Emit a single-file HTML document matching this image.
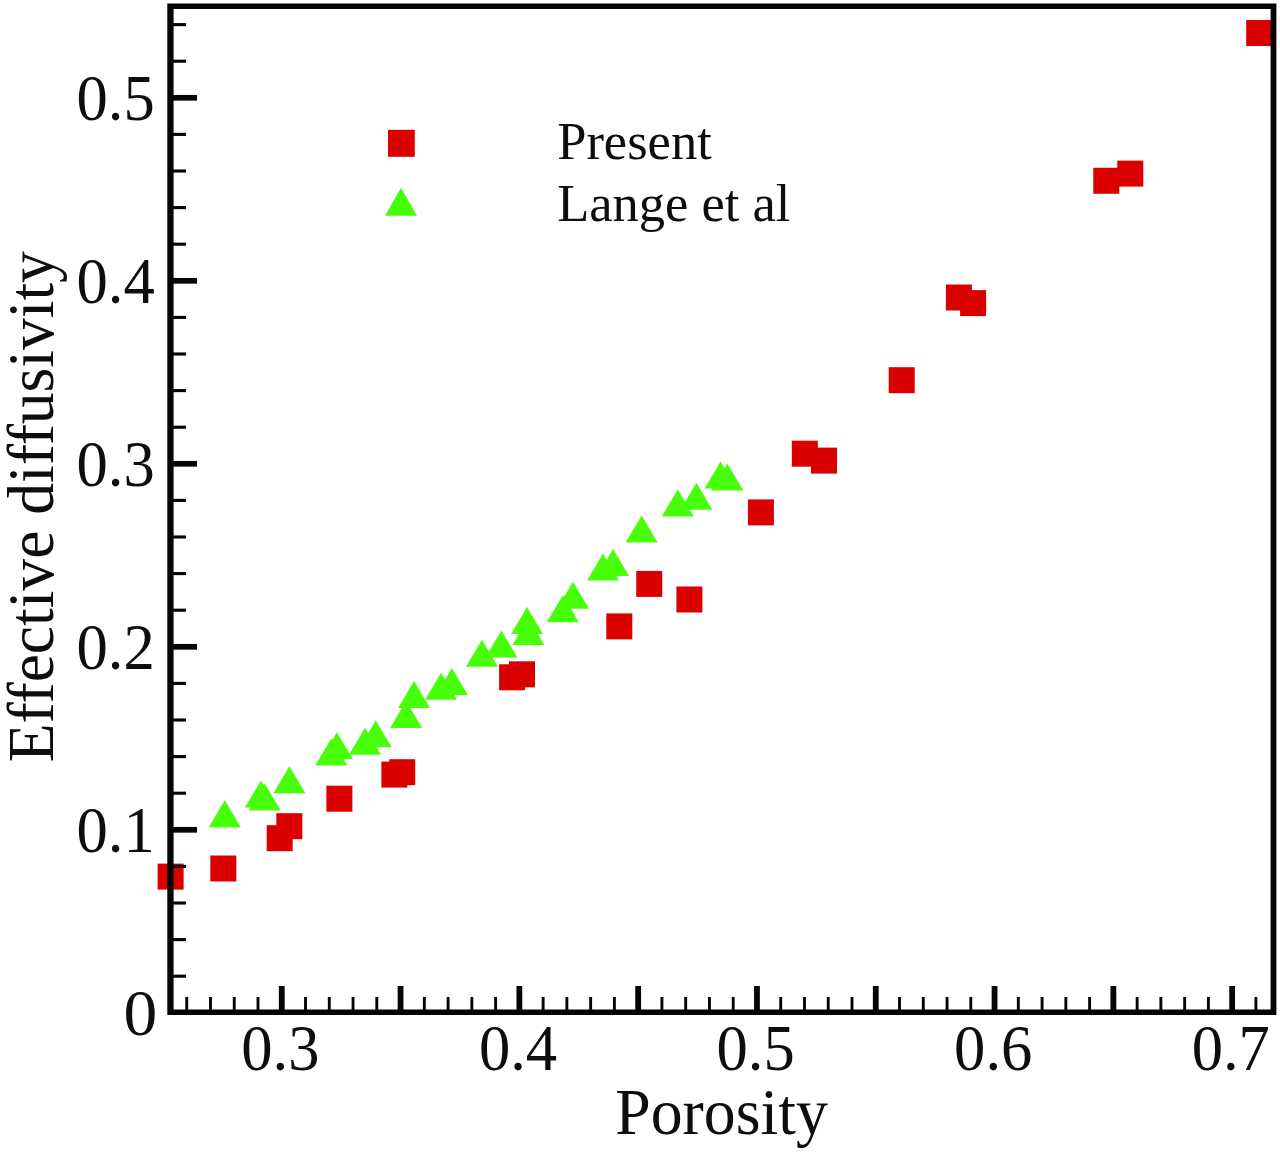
<!DOCTYPE html>
<html lang="en"><head><meta charset="utf-8"><title>Effective diffusivity vs porosity</title>
<style>
html,body{margin:0;padding:0;background:#fff;}
body{width:1280px;height:1154px;overflow:hidden;}
svg{display:block;}
text{font-family:"Liberation Serif","Times New Roman",serif;fill:#0d0d0d;}
.tk{font-size:65px;}
.lg{font-size:52.5px;}
</style></head><body>
<svg width="1280" height="1154" viewBox="0 0 1280 1154">
<rect x="0" y="0" width="1280" height="1154" fill="#ffffff"/>

<g fill="#48ff0a">
<polygon points="224.80,800.30 208.80,827.30 240.80,827.30"/>
<polygon points="260.90,780.60 244.90,807.60 276.90,807.60"/>
<polygon points="264.70,783.40 248.70,810.40 280.70,810.40"/>
<polygon points="289.40,766.20 273.40,793.20 305.40,793.20"/>
<polygon points="331.25,738.40 315.25,765.40 347.25,765.40"/>
<polygon points="336.90,732.25 320.90,759.25 352.90,759.25"/>
<polygon points="365.00,727.75 349.00,754.75 381.00,754.75"/>
<polygon points="375.70,720.25 359.70,747.25 391.70,747.25"/>
<polygon points="406.10,701.10 390.10,728.10 422.10,728.10"/>
<polygon points="414.10,681.00 398.10,708.00 430.10,708.00"/>
<polygon points="441.10,672.75 425.10,699.75 457.10,699.75"/>
<polygon points="451.90,667.90 435.90,694.90 467.90,694.90"/>
<polygon points="482.00,639.75 466.00,666.75 498.00,666.75"/>
<polygon points="501.40,630.40 485.40,657.40 517.40,657.40"/>
<polygon points="528.40,618.00 512.40,645.00 544.40,645.00"/>
<polygon points="527.00,607.00 511.00,634.00 543.00,634.00"/>
<polygon points="562.80,595.30 546.80,622.30 578.80,622.30"/>
<polygon points="573.00,581.80 557.00,608.80 589.00,608.80"/>
<polygon points="603.00,553.50 587.00,580.50 619.00,580.50"/>
<polygon points="613.10,549.00 597.10,576.00 629.10,576.00"/>
<polygon points="641.60,515.60 625.60,542.60 657.60,542.60"/>
<polygon points="677.80,489.40 661.80,516.40 693.80,516.40"/>
<polygon points="696.40,482.80 680.40,509.80 712.40,509.80"/>
<polygon points="720.60,461.60 704.60,488.60 736.60,488.60"/>
<polygon points="727.30,463.50 711.30,490.50 743.30,490.50"/>
</g>
<g fill="#db0000">
<rect x="157.60" y="863.60" width="26.0" height="26.0"/>
<rect x="210.30" y="855.50" width="26.0" height="26.0"/>
<rect x="266.70" y="825.20" width="26.0" height="26.0"/>
<rect x="276.30" y="813.20" width="26.0" height="26.0"/>
<rect x="326.40" y="785.70" width="26.0" height="26.0"/>
<rect x="381.40" y="761.60" width="26.0" height="26.0"/>
<rect x="389.20" y="759.20" width="26.0" height="26.0"/>
<rect x="499.10" y="664.30" width="26.0" height="26.0"/>
<rect x="509.00" y="661.30" width="26.0" height="26.0"/>
<rect x="606.30" y="613.40" width="26.0" height="26.0"/>
<rect x="636.25" y="570.90" width="26.0" height="26.0"/>
<rect x="676.40" y="586.50" width="26.0" height="26.0"/>
<rect x="747.90" y="499.40" width="26.0" height="26.0"/>
<rect x="791.80" y="440.70" width="26.0" height="26.0"/>
<rect x="811.00" y="447.60" width="26.0" height="26.0"/>
<rect x="888.70" y="367.20" width="26.0" height="26.0"/>
<rect x="945.90" y="284.50" width="26.0" height="26.0"/>
<rect x="960.10" y="290.10" width="26.0" height="26.0"/>
<rect x="1093.30" y="167.75" width="26.0" height="26.0"/>
<rect x="1117.30" y="160.60" width="26.0" height="26.0"/>
<rect x="1246.20" y="20.00" width="26.0" height="26.0"/>
</g>
<rect x="388" y="129.8" width="26.8" height="27" fill="#db0000"/>
<polygon points="401,187.8 385,215.7 417,215.7" fill="#48ff0a"/>
<text class="lg" x="557.2" y="158.7">Present</text>
<text class="lg" x="557.2" y="220.7">Lange et al</text>
<g stroke="#050505" fill="none">
<line x1="186.72" y1="997" x2="186.72" y2="1010" stroke-width="2.9"/>
<line x1="210.48" y1="997" x2="210.48" y2="1010" stroke-width="2.9"/>
<line x1="234.24" y1="997" x2="234.24" y2="1010" stroke-width="2.9"/>
<line x1="258.00" y1="997" x2="258.00" y2="1010" stroke-width="2.9"/>
<line x1="281.76" y1="986" x2="281.76" y2="1010" stroke-width="5.8"/>
<line x1="305.52" y1="997" x2="305.52" y2="1010" stroke-width="2.9"/>
<line x1="329.28" y1="997" x2="329.28" y2="1010" stroke-width="2.9"/>
<line x1="353.04" y1="997" x2="353.04" y2="1010" stroke-width="2.9"/>
<line x1="376.80" y1="997" x2="376.80" y2="1010" stroke-width="2.9"/>
<line x1="400.56" y1="986" x2="400.56" y2="1010" stroke-width="5.8"/>
<line x1="424.32" y1="997" x2="424.32" y2="1010" stroke-width="2.9"/>
<line x1="448.08" y1="997" x2="448.08" y2="1010" stroke-width="2.9"/>
<line x1="471.84" y1="997" x2="471.84" y2="1010" stroke-width="2.9"/>
<line x1="495.60" y1="997" x2="495.60" y2="1010" stroke-width="2.9"/>
<line x1="519.36" y1="986" x2="519.36" y2="1010" stroke-width="5.8"/>
<line x1="543.12" y1="997" x2="543.12" y2="1010" stroke-width="2.9"/>
<line x1="566.88" y1="997" x2="566.88" y2="1010" stroke-width="2.9"/>
<line x1="590.64" y1="997" x2="590.64" y2="1010" stroke-width="2.9"/>
<line x1="614.40" y1="997" x2="614.40" y2="1010" stroke-width="2.9"/>
<line x1="638.16" y1="986" x2="638.16" y2="1010" stroke-width="5.8"/>
<line x1="661.92" y1="997" x2="661.92" y2="1010" stroke-width="2.9"/>
<line x1="685.68" y1="997" x2="685.68" y2="1010" stroke-width="2.9"/>
<line x1="709.44" y1="997" x2="709.44" y2="1010" stroke-width="2.9"/>
<line x1="733.20" y1="997" x2="733.20" y2="1010" stroke-width="2.9"/>
<line x1="756.96" y1="986" x2="756.96" y2="1010" stroke-width="5.8"/>
<line x1="780.72" y1="997" x2="780.72" y2="1010" stroke-width="2.9"/>
<line x1="804.48" y1="997" x2="804.48" y2="1010" stroke-width="2.9"/>
<line x1="828.24" y1="997" x2="828.24" y2="1010" stroke-width="2.9"/>
<line x1="852.00" y1="997" x2="852.00" y2="1010" stroke-width="2.9"/>
<line x1="875.76" y1="986" x2="875.76" y2="1010" stroke-width="5.8"/>
<line x1="899.52" y1="997" x2="899.52" y2="1010" stroke-width="2.9"/>
<line x1="923.28" y1="997" x2="923.28" y2="1010" stroke-width="2.9"/>
<line x1="947.04" y1="997" x2="947.04" y2="1010" stroke-width="2.9"/>
<line x1="970.80" y1="997" x2="970.80" y2="1010" stroke-width="2.9"/>
<line x1="994.56" y1="986" x2="994.56" y2="1010" stroke-width="5.8"/>
<line x1="1018.32" y1="997" x2="1018.32" y2="1010" stroke-width="2.9"/>
<line x1="1042.08" y1="997" x2="1042.08" y2="1010" stroke-width="2.9"/>
<line x1="1065.84" y1="997" x2="1065.84" y2="1010" stroke-width="2.9"/>
<line x1="1089.60" y1="997" x2="1089.60" y2="1010" stroke-width="2.9"/>
<line x1="1113.36" y1="986" x2="1113.36" y2="1010" stroke-width="5.8"/>
<line x1="1137.12" y1="997" x2="1137.12" y2="1010" stroke-width="2.9"/>
<line x1="1160.88" y1="997" x2="1160.88" y2="1010" stroke-width="2.9"/>
<line x1="1184.64" y1="997" x2="1184.64" y2="1010" stroke-width="2.9"/>
<line x1="1208.40" y1="997" x2="1208.40" y2="1010" stroke-width="2.9"/>
<line x1="1232.16" y1="986" x2="1232.16" y2="1010" stroke-width="5.8"/>
<line x1="1255.92" y1="997" x2="1255.92" y2="1010" stroke-width="2.9"/>
<line x1="172" y1="976.20" x2="186" y2="976.20" stroke-width="3.1"/>
<line x1="172" y1="939.60" x2="186" y2="939.60" stroke-width="3.1"/>
<line x1="172" y1="903.00" x2="186" y2="903.00" stroke-width="3.1"/>
<line x1="172" y1="866.40" x2="186" y2="866.40" stroke-width="3.1"/>
<line x1="172" y1="829.80" x2="197" y2="829.80" stroke-width="5.7"/>
<line x1="172" y1="793.20" x2="186" y2="793.20" stroke-width="3.1"/>
<line x1="172" y1="756.60" x2="186" y2="756.60" stroke-width="3.1"/>
<line x1="172" y1="720.00" x2="186" y2="720.00" stroke-width="3.1"/>
<line x1="172" y1="683.40" x2="186" y2="683.40" stroke-width="3.1"/>
<line x1="172" y1="646.80" x2="197" y2="646.80" stroke-width="5.7"/>
<line x1="172" y1="610.20" x2="186" y2="610.20" stroke-width="3.1"/>
<line x1="172" y1="573.60" x2="186" y2="573.60" stroke-width="3.1"/>
<line x1="172" y1="537.00" x2="186" y2="537.00" stroke-width="3.1"/>
<line x1="172" y1="500.40" x2="186" y2="500.40" stroke-width="3.1"/>
<line x1="172" y1="463.80" x2="197" y2="463.80" stroke-width="5.7"/>
<line x1="172" y1="427.20" x2="186" y2="427.20" stroke-width="3.1"/>
<line x1="172" y1="390.60" x2="186" y2="390.60" stroke-width="3.1"/>
<line x1="172" y1="354.00" x2="186" y2="354.00" stroke-width="3.1"/>
<line x1="172" y1="317.40" x2="186" y2="317.40" stroke-width="3.1"/>
<line x1="172" y1="280.80" x2="197" y2="280.80" stroke-width="5.7"/>
<line x1="172" y1="244.20" x2="186" y2="244.20" stroke-width="3.1"/>
<line x1="172" y1="207.60" x2="186" y2="207.60" stroke-width="3.1"/>
<line x1="172" y1="171.00" x2="186" y2="171.00" stroke-width="3.1"/>
<line x1="172" y1="134.40" x2="186" y2="134.40" stroke-width="3.1"/>
<line x1="172" y1="97.80" x2="197" y2="97.80" stroke-width="5.7"/>
<line x1="172" y1="61.20" x2="186" y2="61.20" stroke-width="3.1"/>
<line x1="172" y1="24.60" x2="186" y2="24.60" stroke-width="3.1"/>
<path d="M167.3 3.5H1276.4V9H167.3Z M167.3 1009.5H1276.4V1015H167.3Z M167.3 3.5H173.6V1015H167.3Z M1270.6 3.5H1276.4V1015H1270.6Z" fill="#050505" stroke="none"/>
</g>
<text class="tk" transform="translate(154.8,119.7) scale(0.963,1.005)" text-anchor="end">0.5</text>
<text class="tk" transform="translate(154.8,302.7) scale(0.963,1.005)" text-anchor="end">0.4</text>
<text class="tk" transform="translate(154.8,485.7) scale(0.963,1.005)" text-anchor="end">0.3</text>
<text class="tk" transform="translate(154.8,668.7) scale(0.963,1.005)" text-anchor="end">0.2</text>
<text class="tk" transform="translate(154.8,851.7) scale(0.963,1.005)" text-anchor="end">0.1</text>
<text class="tk" transform="translate(157.3,1034.7) scale(1.04,1.005)" text-anchor="end">0</text>
<text class="tk" transform="translate(280.4,1070.3) scale(0.963,1.01)" text-anchor="middle">0.3</text>
<text class="tk" transform="translate(518.0,1070.3) scale(0.963,1.01)" text-anchor="middle">0.4</text>
<text class="tk" transform="translate(755.6,1070.3) scale(0.963,1.01)" text-anchor="middle">0.5</text>
<text class="tk" transform="translate(993.2,1070.3) scale(0.963,1.01)" text-anchor="middle">0.6</text>
<text class="tk" transform="translate(1230.8,1070.3) scale(0.963,1.01)" text-anchor="middle">0.7</text>
<text class="tk" transform="translate(721.5,1134) scale(0.981,1)" text-anchor="middle">Porosity</text>
<text class="tk" transform="translate(53,506.75) rotate(-90) scale(0.978,1)" text-anchor="middle">Effective diffusivity</text>
</svg></body></html>
